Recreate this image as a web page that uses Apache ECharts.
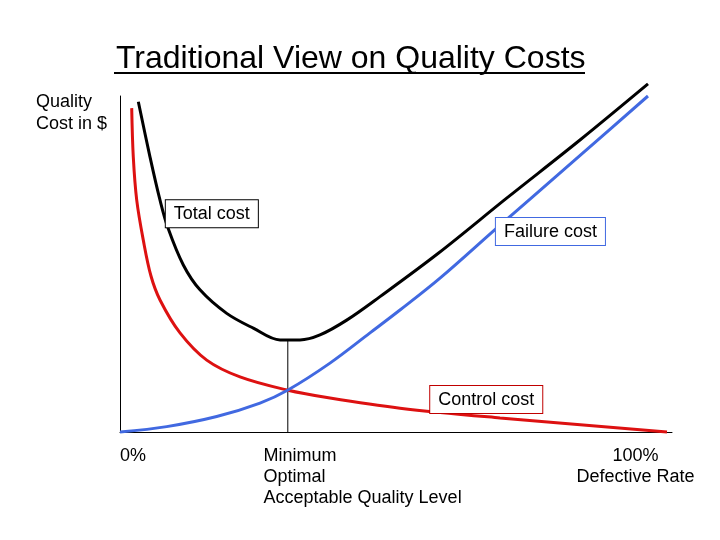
<!DOCTYPE html>
<html>
<head>
    <meta charset="UTF-8">
    <title>Traditional View on Quality Costs</title>
    <script src="https://cdn.jsdelivr.net/npm/echarts@6/dist/echarts.min.js" type="text/javascript"></script>
</head>
<body style="margin:0">
<div id="qc" style="width:720px;height:540px"></div>
<script type="text/javascript">
    // x = defective rate (%), y = cost (relative)
    var controlCost = [[2.12,96.4],[2.41,81.8],[3.03,69.0],[4.22,57.1],[5.6,46.5],[7.25,39.3],[10.87,29.5],[15.71,21.4],[21.74,16.4],[30.25,12.5],[38.04,10.1],[50.72,7.1],[68.84,4.2],[99.09,0]];
    var failureCost = [[0,0],[8.46,1.6],[17.52,4.6],[25.36,8.6],[30.43,12.5],[38.04,20.5],[45.29,29.5],[50.72,36.3],[57.97,45.8],[68.24,60.7],[74.28,69.3],[84.24,83.6],[95.65,100]];
    var totalCost = [[3.32,98.3],[5.43,81.9],[7.25,69.0],[8.70,60.7],[11.47,49.7],[14.49,42.3],[19.33,35.3],[24.15,30.9],[28.99,27.4],[32.61,27.4],[36.23,28.9],[41.07,33.3],[47.10,40.3],[57.66,53.2],[70.05,69.6],[83.33,86.9],[95.65,103.6]];
    var optimumLine = [[30.4,0],[30.4,27.2]];

    var curveNames = ['Total cost', 'Failure cost', 'Control cost'];
    var curveLabelAt = [[8.3,69.0],[68.1,63.7],[56.2,13.7]]; // data points the boxes sit at
    var xLabelText = ['0%', 'Minimum\nOptimal\nAcceptable Quality Level', '100%\nDefective Rate'];
    var xLabelAt = [0, 26, 93.4];
    var yLabelText = 'Quality\nCost in $';

    var myChart = echarts.init(document.getElementById('qc'));
    var font = 'Liberation Sans, Arial, sans-serif';

    function curve(name, data, color) {
        return {
            name: name,
            type: 'line',
            data: data,
            smooth: 0.35,
            symbol: 'none',
            clip: false,
            lineStyle: { color: color, width: 3 }
        };
    }

    var option = {
        animation: false,
        backgroundColor: '#fff',
        title: {
            text: 'Traditional View on Quality Costs',
            left: 111,
            top: 38,
            textStyle: { fontFamily: font, fontSize: 32, fontWeight: 'normal', color: '#000' }
        },
        grid: { left: 120, right: 48, top: 96, bottom: 108 },
        xAxis: {
            type: 'value', min: 0, max: 100,
            axisLine: { lineStyle: { color: '#000', width: 1 } },
            axisTick: { show: false }, axisLabel: { show: false }, splitLine: { show: false }
        },
        yAxis: {
            type: 'value', min: 0, max: 100,
            axisLine: { show: true, lineStyle: { color: '#000', width: 1 } },
            axisTick: { show: false }, axisLabel: { show: false }, splitLine: { show: false }
        },
        series: [
            curve('Control cost', controlCost, '#dd1111'),
            curve('Failure cost', failureCost, '#4169e1'),
            curve('Total cost', totalCost, '#000'),
            {
                name: 'optimum', type: 'line', data: optimumLine, symbol: 'none',
                lineStyle: { color: '#000', width: 1 }, z: 1
            }
        ]
    };
    myChart.setOption(option);

    // labels placed through the chart's own scales
    var boxColors = ['#000', '#4169e1', '#c00000'];
    var g = [];
    // title underline
    g.push({ type: 'line', shape: { x1: 114, y1: 73, x2: 585, y2: 73 }, style: { stroke: '#000', lineWidth: 2 } });
    for (var i = 0; i < curveNames.length; i++) {
        var p = myChart.convertToPixel({ gridIndex: 0 }, curveLabelAt[i]);
        g.push({
            type: 'text', x: p[0], y: p[1],
            style: {
                text: curveNames[i], font: '18px ' + font, fill: '#000',
                backgroundColor: '#fff', borderColor: boxColors[i], borderWidth: 1,
                padding: [5, 8, 4, 8]
            },
            z: 10
        });
    }
    var aligns = ['left', 'left', 'center'];
    for (var j = 0; j < xLabelText.length; j++) {
        var q = myChart.convertToPixel({ gridIndex: 0 }, [xLabelAt[j], 0]);
        g.push({
            type: 'text', x: q[0], y: q[1] + 14,
            style: { text: xLabelText[j], font: '18px ' + font, fill: '#000', align: aligns[j], lineHeight: 21 }
        });
    }
    g.push({
        type: 'text', x: 36, y: 91,
        style: { text: yLabelText, font: '18px ' + font, fill: '#000', lineHeight: 22 }
    });
    myChart.setOption({ graphic: g });
</script>
</body>
</html>
